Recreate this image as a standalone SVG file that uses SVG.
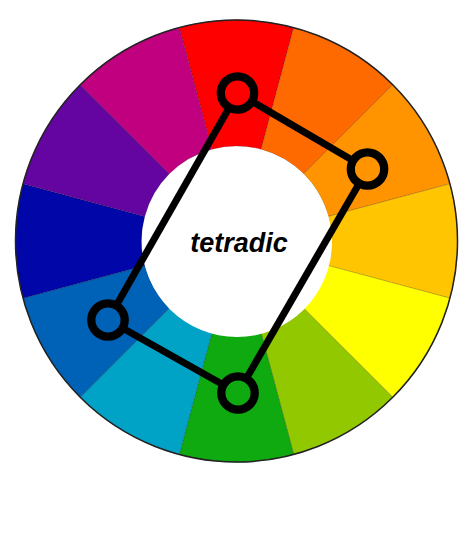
<svg xmlns="http://www.w3.org/2000/svg" width="474" height="553" viewBox="0 0 474 553">
  <style>
    .seg { stroke: #000; stroke-opacity: 0.18; stroke-width: 1; }
    .link { stroke: #000; stroke-width: 7; fill: none; }
    .dot { stroke: #000; stroke-width: 8.3; fill: none; }
    .label { font-family: "Liberation Sans", Arial, sans-serif; font-weight: bold; font-style: italic; font-size: 27px; fill: #000; }
  </style>
  <rect width="474" height="553" fill="#fff"/>
  <g id="wheel">
    <path class="seg" fill="#FF0000" d="M179.30,27.53 A221,221 0 0 1 293.70,27.53 L261.09,149.24 A95,95 0 0 0 211.91,149.24 Z"/>
    <path class="seg" fill="#FF6A00" d="M293.70,27.53 A221,221 0 0 1 392.77,84.73 L303.68,173.83 A95,95 0 0 0 261.09,149.24 Z"/>
    <path class="seg" fill="#FF9300" d="M392.77,84.73 A221,221 0 0 1 449.97,183.80 L328.26,216.41 A95,95 0 0 0 303.68,173.83 Z"/>
    <path class="seg" fill="#FFC500" d="M449.97,183.80 A221,221 0 0 1 449.97,298.20 L328.26,265.59 A95,95 0 0 0 328.26,216.41 Z"/>
    <path class="seg" fill="#FFFF00" d="M449.97,298.20 A221,221 0 0 1 392.77,397.27 L303.68,308.18 A95,95 0 0 0 328.26,265.59 Z"/>
    <path class="seg" fill="#92C800" d="M392.77,397.27 A221,221 0 0 1 293.70,454.47 L261.09,332.76 A95,95 0 0 0 303.68,308.18 Z"/>
    <path class="seg" fill="#0FAA0F" d="M293.70,454.47 A221,221 0 0 1 179.30,454.47 L211.91,332.76 A95,95 0 0 0 261.09,332.76 Z"/>
    <path class="seg" fill="#00A3C6" d="M179.30,454.47 A221,221 0 0 1 80.23,397.27 L169.33,308.18 A95,95 0 0 0 211.91,332.76 Z"/>
    <path class="seg" fill="#0062B6" d="M80.23,397.27 A221,221 0 0 1 23.03,298.20 L144.74,265.59 A95,95 0 0 0 169.33,308.18 Z"/>
    <path class="seg" fill="#0006A8" d="M23.03,298.20 A221,221 0 0 1 23.03,183.80 L144.74,216.41 A95,95 0 0 0 144.74,265.59 Z"/>
    <path class="seg" fill="#6405A2" d="M23.03,183.80 A221,221 0 0 1 80.23,84.73 L169.33,173.83 A95,95 0 0 0 144.74,216.41 Z"/>
    <path class="seg" fill="#C0007F" d="M80.23,84.73 A221,221 0 0 1 179.30,27.53 L211.91,149.24 A95,95 0 0 0 169.33,173.83 Z"/>
    <circle cx="236.5" cy="241" r="221" fill="none" stroke="#222" stroke-width="1.5"/>
    <circle cx="237" cy="242" r="95" fill="#fff"/>
  </g>
  <g id="connectors">
    <line class="link" x1="252.17" y1="101.58" x2="352.83" y2="160.42"/>
    <line class="link" x1="358.99" y1="183.72" x2="246.51" y2="378.28"/>
    <line class="link" x1="223.18" y1="384.68" x2="122.82" y2="328.32"/>
    <line class="link" x1="116.43" y1="305.23" x2="229.07" y2="107.77"/>
  </g>
  <g id="node-red"><circle class="dot" cx="237.5" cy="93" r="16.7"/></g>
  <g id="node-orange"><circle class="dot" cx="367.5" cy="169" r="16.7"/></g>
  <g id="node-green"><circle class="dot" cx="238" cy="393" r="16.7"/></g>
  <g id="node-blue"><circle class="dot" cx="108" cy="320" r="16.7"/></g>
  <g id="label"><text class="label" x="239" y="252" text-anchor="middle">tetradic</text></g>
</svg>
